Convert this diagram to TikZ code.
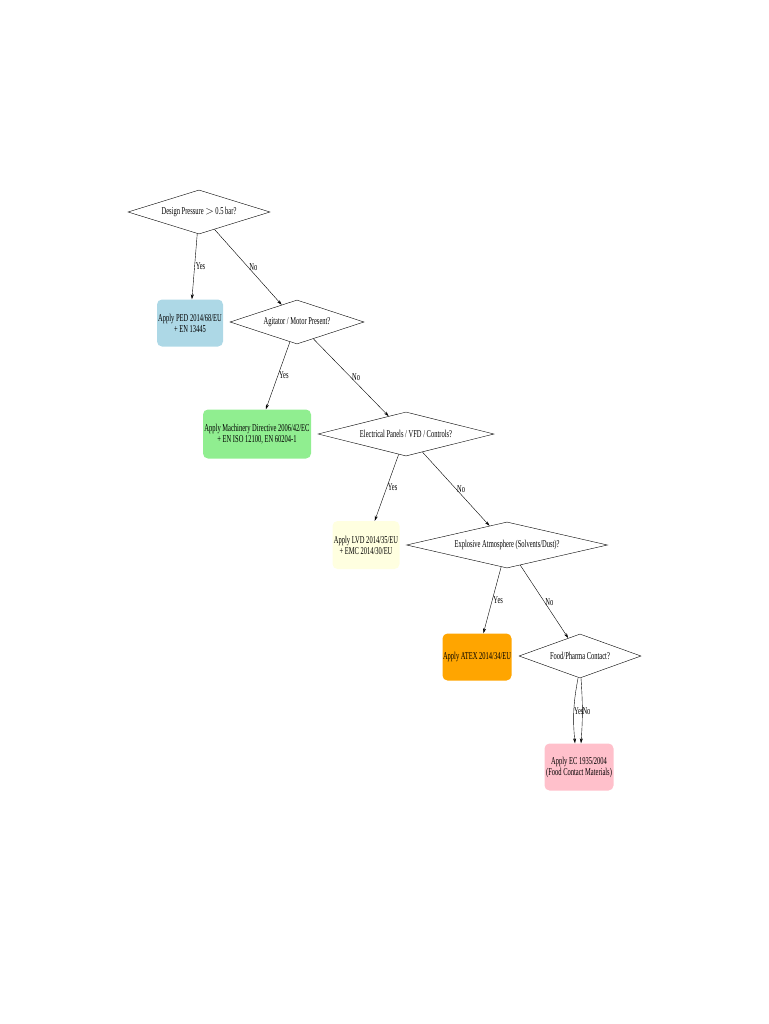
\documentclass[tikz,border=0pt]{standalone}
\usepackage{fontspec}
\setmainfont{Liberation Serif}
\newfontfamily\cond[FakeStretch=0.62]{Liberation Serif}
\usetikzlibrary{shapes.geometric,arrows.meta}
\begin{document}
\begin{tikzpicture}[x=1pt,y=-1pt,
  font=\cond\fontsize{10.5}{11}\selectfont,
  dec/.style={shape=diamond,draw,thin,inner sep=0pt,fill=white},
  res/.style={rounded corners=5pt,align=center,inner sep=0pt},
  arr/.style={-{Stealth[length=5pt,width=3pt]},thin},
  lab/.style={font=\cond\fontsize{10.5}{11}\selectfont,inner sep=1pt}]
\useasboundingbox (0,0) rectangle (768,1024);
\node[dec,aspect=3.2,minimum width=142,minimum height=44] (d1) at (199,212) {Design Pressure $>$ 0.5 bar?};
\node[res,fill={rgb,255:red,173;green,216;blue,230},minimum width=66,minimum height=47] (b1) at (190,323) {Apply PED 2014/68/EU\\+ EN 13445};
\node[dec,aspect=3.0,minimum width=134,minimum height=44] (d2) at (297,322) {Agitator / Motor Present?};
\node[res,fill={rgb,255:red,144;green,238;blue,144},minimum width=108,minimum height=49] (b2) at (257,434) {Apply Machinery Directive 2006/42/EC\\+ EN ISO 12100, EN 60204-1};
\node[dec,aspect=4.0,minimum width=176,minimum height=44] (d3) at (406,434) {Electrical Panels / VFD / Controls?};
\node[res,fill={rgb,255:red,255;green,255;blue,224},minimum width=67,minimum height=48] (b3) at (366,545) {Apply LVD 2014/35/EU\\+ EMC 2014/30/EU};
\node[dec,aspect=4.4,minimum width=201,minimum height=46] (d4) at (507,545) {Explosive Atmosphere (Solvents/Dust)?};
\node[res,fill={rgb,255:red,255;green,165;blue,0},minimum width=69,minimum height=47] (b4) at (477,657) {Apply ATEX 2014/34/EU};
\node[dec,aspect=2.8,minimum width=122,minimum height=44] (d5) at (580,656) {Food/Pharma Contact?};
\node[res,fill={rgb,255:red,255;green,192;blue,203},minimum width=69,minimum height=47] (b5) at (579,767) {Apply EC 1935/2004\\(Food Contact Materials)};
\draw[arr] (d1) -- node[lab,right,pos=.5]{Yes} (b1);
\draw[arr] (d1) -- node[lab,right,pos=.5]{No} (d2);
\draw[arr] (d2) -- node[lab,right,pos=.5]{Yes} (b2);
\draw[arr] (d2) -- node[lab,right,pos=.5]{No} (d3);
\draw[arr] (d3) -- node[lab,right,pos=.5]{Yes} (b3);
\draw[arr] (d3) -- node[lab,right,pos=.5]{No} (d4);
\draw[arr] (d4) -- node[lab,right,pos=.5]{Yes} (b4);
\draw[arr] (d4) -- node[lab,right,pos=.5]{No} (d5);
\draw[arr] (d5.south) ++(-2,0) coordinate (y0) (y0) to[bend right=8] node[lab,right,pos=.5,inner sep=0pt]{Yes} (b5.north -| 575,0);
\draw[arr] (d5.south) ++(1,0) coordinate (n0) (n0) to[bend left=4] node[lab,right,pos=.5,inner sep=0pt]{No} (b5.north -| 581,0);
\end{tikzpicture}
\end{document}
